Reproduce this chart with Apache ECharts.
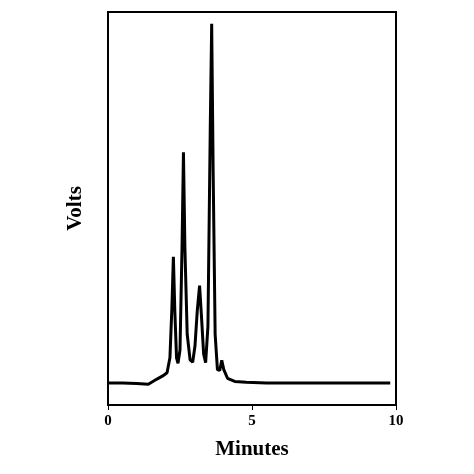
<!DOCTYPE html>
<html>
<head>
<meta charset="utf-8">
<script src="https://cdn.jsdelivr.net/npm/echarts@6/dist/echarts.min.js"></script>
<style>html,body{margin:0;background:#fff}#c{width:474px;height:474px}</style>
</head>
<body>
<div id="c"></div>
<script>
// chromatogram trace
var minutes = [0, 0.5, 1.0, 1.4, 1.7, 1.9, 2.05, 2.15, 2.22, 2.27, 2.32, 2.38, 2.43, 2.5, 2.57, 2.62, 2.67, 2.75, 2.85, 2.94, 3.02, 3.1, 3.18, 3.25, 3.32, 3.39, 3.47, 3.55, 3.6, 3.65, 3.72, 3.8, 3.88, 3.95, 4.02, 4.15, 4.4, 4.8, 5.5, 7, 8.5, 9.8];
var volts =   [5.6, 5.6, 5.5, 5.3, 6.6, 7.4, 8.2, 12, 25, 37.7, 24, 12, 10.6, 14, 40, 64.3, 40, 18, 11.5, 10.9, 15, 24, 30.4, 22, 13, 10.8, 20, 70, 97, 60, 18, 9, 8.8, 11.4, 9, 6.8, 6, 5.8, 5.6, 5.6, 5.6, 5.6];
var xTicks = [0, 5, 10];

var chart = echarts.init(document.getElementById('c'));
var serif = 'Liberation Serif';
chart.setOption({
  animation: false,
  grid: { left: 108, right: 78, top: 12, bottom: 69, show: true, borderColor: '#000', borderWidth: 2 },
  xAxis: {
    type: 'value', min: 0, max: 10, interval: 5,
    name: 'Minutes', nameLocation: 'middle', nameGap: 34,
    nameTextStyle: { fontFamily: serif, fontWeight: 'bold', fontSize: 21, color: '#000' },
    axisLine: { lineStyle: { color: '#000', width: 2 } },
    axisTick: { show: true, inside: false, length: 5, lineStyle: { color: '#000' } },
    axisLabel: { fontFamily: serif, fontWeight: 'bold', fontSize: 15, color: '#000', margin: 9, formatter: function (v) { return xTicks.indexOf(v) >= 0 ? v : ''; } },
    splitLine: { show: false }
  },
  yAxis: {
    type: 'value', min: 0, max: 100,
    name: 'Volts', nameLocation: 'middle', nameGap: 22,
    nameTextStyle: { fontFamily: serif, fontWeight: 'bold', fontSize: 21, color: '#000' },
    axisLine: { lineStyle: { color: '#000', width: 2 } },
    axisTick: { show: false }, axisLabel: { show: false }, splitLine: { show: false }
  },
  series: [{
    type: 'line', showSymbol: false,
    data: minutes.map(function (t, i) { return [t, volts[i]]; }),
    lineStyle: { color: '#000', width: 3 }
  }]
});
</script>
</body>
</html>
